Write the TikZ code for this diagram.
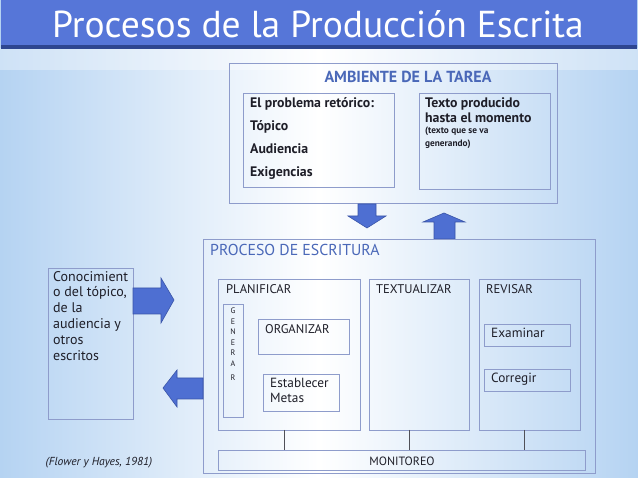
\documentclass[tikz,border=0pt]{standalone}
\usepackage{fontspec}
\setmainfont{PT Sans}
\begin{document}
\begin{tikzpicture}[x=1pt,y=-1pt,
  box/.style={draw=boxline, line width=0.8pt, inner sep=0pt, anchor=north west},
  lbl/.style={anchor=north west, inner sep=0pt, font=\fontsize{12.6}{14}\selectfont, text=textdark},
  blbl/.style={lbl, font=\fontsize{13.8}{15}\selectfont\bfseries},
  head/.style={anchor=north west, inner sep=0pt, text=headblue},
  blockarrow/.style={fill=arrowblue, draw=arrowedge, line width=0.6pt},
  link/.style={draw=linkgray, line width=0.8pt}]
\definecolor{boxline}{HTML}{8E9CCB}
\definecolor{textdark}{HTML}{1E1E28}
\definecolor{headblue}{HTML}{4A68B8}
\definecolor{arrowblue}{HTML}{4E6FD2}
\definecolor{arrowedge}{HTML}{3A55A8}
\definecolor{linkgray}{HTML}{505058}
\definecolor{bgblue}{HTML}{B5D3F2}
\definecolor{titleblue}{HTML}{5676D8}
\definecolor{titleedge}{HTML}{2E4690}
\useasboundingbox (0,0) rectangle (638,478);
% background
\shade[left color=bgblue, right color=bgblue, middle color=white] (0,0) rectangle (638,478);
\fill[white, opacity=0.35] (0,48) rectangle (638,70);
% title bar
\fill[titleedge] (1,2) rectangle (637,49);
\fill[titleblue] (1,0) rectangle (637,45);
\node[text=white, inner sep=0pt, font=\fontsize{37.5}{40}\selectfont] (title) at (318,24) {Procesos de la Producción Escrita};
% AMBIENTE DE LA TAREA
\node[box, minimum width=328pt, minimum height=140pt] (amb) at (229,63) {};
\node[head, anchor=center, font=\fontsize{16}{18}\selectfont\bfseries] (ambt) at (408,77) {AMBIENTE DE LA TAREA};
\node[box, minimum width=151pt, minimum height=94pt] (prob) at (243,93) {};
\node[blbl] (p1) at (250,97) {El problema retórico:};
\node[blbl] (p2) at (250,120) {Tópico};
\node[blbl] (p3) at (250,143) {Audiencia};
\node[blbl] (p4) at (250,166) {Exigencias};
\node[box, minimum width=131pt, minimum height=96pt] (texto) at (419,93) {};
\node[blbl, align=left, font=\fontsize{13.8}{15.5}\selectfont\bfseries] (t1) at (425,97) {Texto producido\\hasta el momento};
\node[lbl, align=left, font=\fontsize{9.3}{13}\selectfont\bfseries] (t2) at (425,127) {(texto que se va\\generando)};
% vertical block arrows
\draw[blockarrow] (358,204) -- (376,204) -- (376,216) -- (386,216) -- (367,228) -- (348,216) -- (358,216) -- cycle;
\draw[blockarrow] (434,239) -- (455,239) -- (455,222) -- (465,222) -- (444,213) -- (423,222) -- (434,222) -- cycle;
% PROCESO DE ESCRITURA
\node[box, minimum width=392pt, minimum height=234pt] (proc) at (203,239) {};
\node[head, font=\fontsize{15.8}{18}\selectfont] (proct) at (210,244) {PROCESO DE ESCRITURA};
\node[box, minimum width=142pt, minimum height=151pt] (plan) at (218,279) {};
\node[lbl] (plant) at (226,284) {PLANIFICAR};
\node[box, minimum width=100pt, minimum height=151pt] (textu) at (369,279) {};
\node[lbl] (textut) at (376,284) {TEXTUALIZAR};
\node[box, minimum width=101pt, minimum height=151pt] (rev) at (479,279) {};
\node[lbl] (revt) at (486,284) {REVISAR};
% GENERAR
\node[box, minimum width=20pt, minimum height=113pt] (gen) at (223,304) {};
\node[inner sep=0pt, align=center, font=\fontsize{8}{10.5}\selectfont, text=textdark, anchor=north] (gent) at (233,308) {G\\E\\N\\E\\R\\A\\[4pt]R};
\node[box, minimum width=91pt, minimum height=35pt] (org) at (258,319) {};
\node[lbl] (orgt) at (265,324) {ORGANIZAR};
\node[box, minimum width=76pt, minimum height=37pt] (meta) at (263,374) {};
\node[lbl, align=left, font=\fontsize{13.3}{15}\selectfont] (metat) at (270,378) {Establecer\\Metas};
\node[box, minimum width=86pt, minimum height=22pt] (exa) at (484,324) {};
\node[lbl, font=\fontsize{13.3}{15}\selectfont] (exat) at (491,328) {Examinar};
\node[box, minimum width=86pt, minimum height=22pt] (cor) at (484,369) {};
\node[lbl, font=\fontsize{13.3}{15}\selectfont] (cort) at (491,373) {Corregir};
% MONITOREO
\node[box, minimum width=367pt, minimum height=20pt] (mon) at (218,450) {};
\node[inner sep=0pt, font=\fontsize{12}{13}\selectfont, text=textdark] (mont) at (402,461) {MONITOREO};
\coordinate (c1) at (284,430);
\coordinate (c2) at (409,430);
\coordinate (c3) at (524,430);
\draw[link] (c1) -- (c1 |- mon.north);
\draw[link] (c2) -- (c2 |- mon.north);
\draw[link] (c3) -- (c3 |- mon.north);
% Conocimiento
\node[box, minimum width=85pt, minimum height=151pt] (con) at (48,268) {};
\node[lbl, align=left, font=\fontsize{14}{15.8}\selectfont] (cont) at (53,271) {Conocimient\\o del tópico,\\de la\\audiencia y\\otros\\escritos};
% horizontal block arrows
\draw[blockarrow] (133,288) -- (161,288) -- (161,278) -- (174,300) -- (161,323) -- (161,314) -- (133,314) -- cycle;
\draw[blockarrow] (203,378) -- (177,378) -- (177,370) -- (163,388) -- (177,407) -- (177,399) -- (203,399) -- cycle;
% citation
\node[inner sep=0pt, font=\fontsize{11.6}{13}\selectfont\itshape, text=textdark] (cite) at (99,463) {(Flower y Hayes, 1981)};
\end{tikzpicture}
\end{document}
